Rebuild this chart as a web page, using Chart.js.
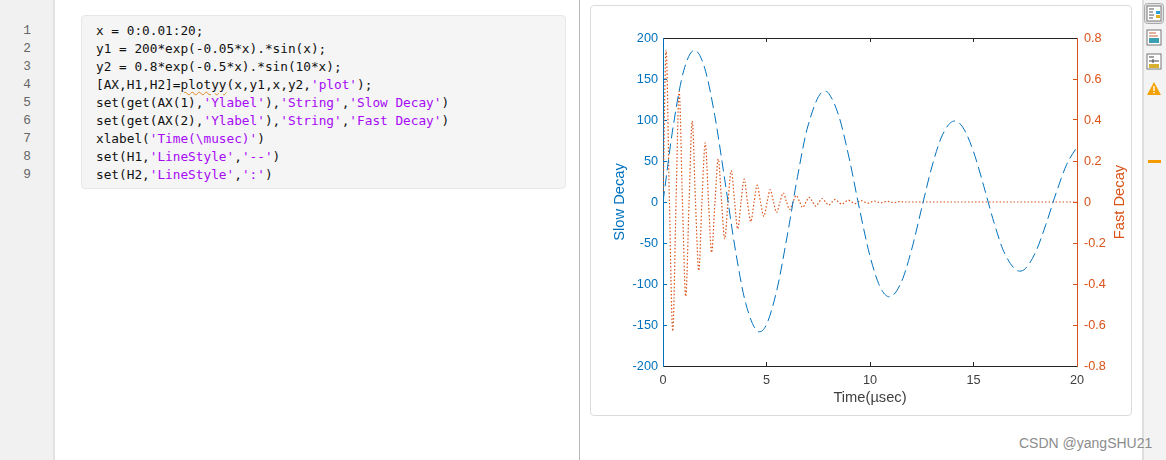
<!DOCTYPE html>
<html>
<head>
<meta charset="utf-8">
<script src="https://cdn.jsdelivr.net/npm/chart.js@4/dist/chart.umd.min.js"></script>
<style>
  html, body { margin: 0; padding: 0; width: 1166px; height: 460px; overflow: hidden; background: #fff; }
  div { position: absolute; box-sizing: border-box; }
  #gutter { left: 0; top: 0; width: 55px; height: 460px; background: #f1f1f1; border-right: 2px solid #e2e2e2; }
  #nums { left: 0; top: 22px; width: 31px; text-align: right; font: 12.8px/18px "Liberation Mono", monospace; color: #666; white-space: pre; }
  #box { left: 81px; top: 15px; width: 485px; height: 174px; background: #f5f5f5; border: 1px solid #e8e8e8; border-radius: 4px; }
  #code { left: 96px; top: 22px; font: 12.75px/18px "DejaVu Sans Mono", monospace; color: #111; white-space: pre; }
  #code b { font-weight: normal; color: #a709f5; }
  #code u { text-decoration: underline wavy #e08a20 1px; text-underline-offset: 2px; }
  #split { left: 579px; top: 0; width: 1px; height: 460px; background: #b8b8b8; }
  #card { left: 590px; top: 5px; width: 542px; height: 411px; border: 1px solid #dcdcdc; border-radius: 4px; background: #fff; }
  #canvasWrap { left: 590px; top: 5px; width: 541px; height: 410px; }
  #bar { left: 1142px; top: 0; width: 24px; height: 460px; background: #f3f3f3; border-left: 2px solid #dedede; }
  #mark { left: 1019px; top: 435px; font: 14px "Liberation Sans", sans-serif; color: #8c8c8c; white-space: pre; }
  #icons { left: 1144px; top: 3px; }
</style>
</head>
<body>
<div id="gutter"></div>
<div id="nums">1
2
3
4
5
6
7
8
9</div>
<div id="box"></div>
<div id="code">x = 0:0.01:20;
y1 = 200*exp(-0.05*x).*sin(x);
y2 = 0.8*exp(-0.5*x).*sin(10*x);
[AX,H1,H2]=<u>plotyy</u>(x,y1,x,y2,<b>'plot'</b>);
set(get(AX(1),<b>'Ylabel'</b>),<b>'String'</b>,<b>'Slow Decay'</b>)
set(get(AX(2),<b>'Ylabel'</b>),<b>'String'</b>,<b>'Fast Decay'</b>)
xlabel(<b>'Time(\musec)'</b>)
set(H1,<b>'LineStyle'</b>,<b>'--'</b>)
set(H2,<b>'LineStyle'</b>,<b>':'</b>)</div>
<div id="split"></div>
<div id="card"></div>
<div id="canvasWrap"><canvas id="mycanvas" width="541" height="410"></canvas></div>
<div id="bar"></div>
<div id="icons">
<svg width="20" height="170" viewBox="0 0 20 170">
  <rect x="0.5" y="0.5" width="19" height="20" rx="3" fill="#e4e4e4" stroke="#aaa"/>
  <rect x="3" y="3" width="14" height="15" fill="#fff" stroke="#777"/>
  <path d="M5 6h5M5 9h4M5 12h5M5 15h4" stroke="#555"/><rect x="12" y="8" width="4" height="3" fill="#2a9fd0"/><rect x="12" y="12" width="4" height="3" fill="#e0b020"/>
  <rect x="3" y="27" width="14" height="15" fill="#fff" stroke="#777"/>
  <path d="M5 30h7M5 33h9" stroke="#c9643a"/><rect x="5" y="35" width="10" height="5" fill="#3a9fb0"/>
  <rect x="3" y="51" width="14" height="15" fill="#fff" stroke="#777"/>
  <path d="M5 54h5M5 58h10M9 56v4" stroke="#444"/><rect x="5" y="61" width="10" height="4" fill="#d8b030"/>
  <path d="M10 79l7 13h-14z" fill="#f5a100"/><rect x="9.3" y="83" width="1.4" height="5" fill="#fff"/><rect x="9.3" y="89" width="1.4" height="1.4" fill="#fff"/>
  <rect x="4" y="157" width="13" height="3" fill="#f59a00"/>
</svg>
</div>
<div id="mark">CSDN @yangSHU21</div>
<script>
var xTicks = [0, 5, 10, 15, 20];
var slowTicks = [-200, -150, -100, -50, 0, 50, 100, 150, 200];
var fastTicks = [-0.8, -0.6, -0.4, -0.2, 0, 0.2, 0.4, 0.6, 0.8];

var slowX = [0, 0.5, 1, 1.52, 2, 2.5, 3, 3.5, 4, 4.66, 5, 5.5, 6, 6.5, 7, 7.8, 8, 8.5, 9, 9.5, 10, 10.5, 10.94,
  11.5, 12, 12.5, 13, 13.5, 14.09, 14.5, 15, 15.5, 16, 16.5, 17.23, 17.5, 18, 18.5, 19, 19.5, 20];
var slowY = [0, 93.5, 160, 185, 164.5, 105.6, 24.3, -58.9, -124, -158.3, -149.4, -107.3, -41.4, 31.1, 92.6, 135.2, 132.6, 104.4, 52.6, -9.3, -66, -104.2, -115.6,
  -98.5, -59, -7.1, 43.8, 81.8, 98.8, 90.5, 61.4, 19, -25.9, -62.4, -84.3, -81.4, -61.1, -27.2, 11.6, 45.7, 67.2];

var fastX = [0, 0.15, 0.31, 0.47, 0.63, 0.78, 0.94, 1.10, 1.26, 1.41, 1.57, 1.73, 1.88, 2.04, 2.20, 2.35, 2.51, 2.67, 2.83, 2.98,
  3.14, 3.30, 3.46, 3.61, 3.77, 3.92, 4.08, 4.24, 4.40, 4.55, 4.71, 4.87, 5.03, 5.18, 5.34, 5.49, 5.65, 5.81, 5.97, 6.12,
  6.28, 6.44, 6.60, 6.75, 6.91, 7.07, 7.23, 7.38, 7.54, 7.69, 7.85, 8.01, 8.17, 8.32, 8.48, 8.64, 8.80, 8.95, 9.11, 9.27,
  9.42, 9.58, 9.74, 9.89, 10.05, 10.2, 10.37, 10.52, 10.68, 10.84, 11, 11.15, 11.31, 11.47, 11.62, 12, 20];
var fastY = [0, 0.74, 0, -0.63, 0, 0.54, 0, -0.46, 0, 0.395, 0, -0.335, 0, 0.288, 0, -0.246, 0, 0.21, 0, -0.18,
  0, 0.153, 0, -0.131, 0, 0.112, 0, -0.096, 0, 0.082, 0, -0.07, 0, 0.06, 0, -0.051, 0, 0.044, 0, -0.037,
  0, 0.032, 0, -0.027, 0, 0.023, 0, -0.02, 0, 0.017, 0, -0.015, 0, 0.0125, 0, -0.0107, 0, 0.009, 0, -0.0078,
  0, 0.0066, 0, -0.0057, 0, 0.0048, 0, -0.0041, 0, 0.0035, 0, -0.003, 0, 0.0026, 0, 0, 0];

var BLUE = '#0072BD';
var ORANGE = '#D95319';
var DARK = '#262626';
var TICK_FONT = { family: 'Liberation Sans', size: 12.7 };
var TITLE_FONT = { family: 'Liberation Sans', size: 14.7 };

function toPoints(xs, ys) {
  var pts = [];
  for (var i in xs) {
    pts.push({ x: xs[i], y: ys[i] });
  }
  return pts;
}
function fixedTicks(list) {
  return function(axis) { axis.ticks = list.map(function(v) { return { value: v }; }); };
}

// chart.js always turns a right-hand title clockwise, the reference reads upward
var fastTitle = {
  id: 'fastTitle',
  afterDraw: function(chart) {
    var c = chart.ctx;
    var s = chart.scales.y1;
    c.save();
    c.translate(s.right - 11, (s.top + s.bottom) / 2);
    c.rotate(-Math.PI / 2);
    c.textAlign = 'center';
    c.textBaseline = 'middle';
    c.fillStyle = ORANGE;
    c.font = '14.7px "Liberation Sans"';
    c.fillText('Fast Decay', 0, 0);
    c.restore();
  }
};

var ctx = document.getElementById('mycanvas');
new Chart(ctx, {
  type: 'line',
  plugins: [fastTitle],
  data: {
    datasets: [
      {
        label: 'Slow Decay', data: toPoints(slowX, slowY), yAxisID: 'y', xAxisID: 'x',
        borderColor: BLUE, borderWidth: 1, borderDash: [11, 5], pointRadius: 0, cubicInterpolationMode: 'monotone'
      },
      {
        label: 'Fast Decay', data: toPoints(fastX, fastY), yAxisID: 'y1', xAxisID: 'x',
        borderColor: ORANGE, borderWidth: 1.2, borderDash: [1.5, 2], pointRadius: 0, cubicInterpolationMode: 'monotone'
      }
    ]
  },
  options: {
    responsive: false,
    animation: false,
    layout: { padding: { top: 33, left: 0, right: 0, bottom: 0 } },
    plugins: { legend: { display: false }, tooltip: { enabled: false } },
    scales: {
      x: {
        type: 'linear', position: 'bottom', min: 0, max: 20,
        afterBuildTicks: fixedTicks(xTicks),
        afterFit: function(a) { a.height = 49; },
        grid: { drawOnChartArea: false, color: DARK, tickLength: -4 },
        border: { color: DARK, width: 1 },
        ticks: { color: '#404040', padding: 11, maxRotation: 0, font: TICK_FONT },
        title: { display: true, text: 'Time(\u00b5sec)', color: '#404040', font: TITLE_FONT, padding: { top: 0, bottom: 8 } }
      },
      xTop: {
        type: 'linear', position: 'top', min: 0, max: 20,
        afterBuildTicks: fixedTicks(xTicks),
        afterFit: function(a) { a.height = 0; },
        grid: { drawOnChartArea: false, color: DARK, tickLength: -4 },
        border: { color: DARK, width: 1 },
        ticks: { display: false }
      },
      y: {
        type: 'linear', position: 'left', min: -200, max: 200,
        afterBuildTicks: fixedTicks(slowTicks),
        afterFit: function(a) { a.width = 73; },
        grid: { drawOnChartArea: false, color: BLUE, tickLength: -4 },
        border: { color: BLUE, width: 1 },
        ticks: { color: BLUE, padding: 9, font: TICK_FONT },
        title: { display: true, text: 'Slow Decay', color: BLUE, font: TITLE_FONT, padding: { top: 21, bottom: 0 } }
      },
      y1: {
        type: 'linear', position: 'right', min: -0.8, max: 0.8,
        afterBuildTicks: fixedTicks(fastTicks),
        afterFit: function(a) { a.width = 54; },
        grid: { drawOnChartArea: false, color: ORANGE, tickLength: -4 },
        border: { color: ORANGE, width: 1 },
        ticks: { color: ORANGE, padding: 11, font: TICK_FONT }
      }
    }
  }
});
</script>
</body>
</html>
